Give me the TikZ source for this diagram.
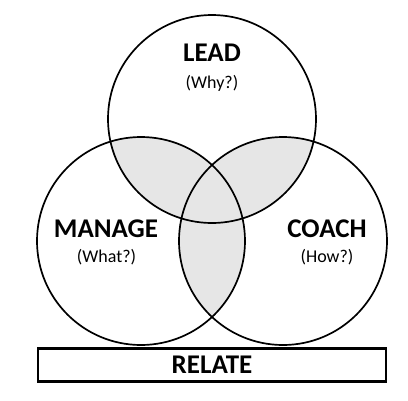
\documentclass[tikz,border=0pt]{standalone}
\usepackage{fontspec}
\setmainfont{Carlito}
\definecolor{lensgray}{HTML}{E6E6E6}

\begin{document}
\begin{tikzpicture}[x=1pt, y=-1pt,
	ring/.style={line width=1.7pt},
	title/.style={font=\fontsize{27}{29}\selectfont\bfseries},
	question/.style={font=\fontsize{18}{20}\selectfont}]
	\useasboundingbox (0,0) rectangle (408,400);
	\coordinate (L) at (212,119);
	\coordinate (M) at (141,241);
	\coordinate (C) at (283,241);

	% shaded overlaps
	\begin{scope}
		\clip (L) circle [radius=104pt];
		\fill[lensgray] (M) circle [radius=104pt];
		\fill[lensgray] (C) circle [radius=104pt];
	\end{scope}
	\begin{scope}
		\clip (M) circle [radius=104pt];
		\fill[lensgray] (C) circle [radius=104pt];
	\end{scope}

	\draw[ring] (L) circle [radius=104pt];
	\draw[ring] (M) circle [radius=104pt];
	\draw[ring] (C) circle [radius=104pt];

	\node[title] (lead) at (212,53) {LEAD};
	\node[question] (why) at (212,83) {(Why?)};
	\node[title] (manage) at (106,228.5) {MANAGE};
	\node[question] (what) at (106.5,257.5) {(What?)};
	\node[title] (coach) at (327,228.5) {COACH};
	\node[question] (how) at (327,257.5) {(How?)};

	\node[draw, line width=2.2pt, minimum width=348pt, minimum height=33pt,
		inner sep=0pt, title] (relate) at (212,365) {RELATE};
\end{tikzpicture}
\end{document}
